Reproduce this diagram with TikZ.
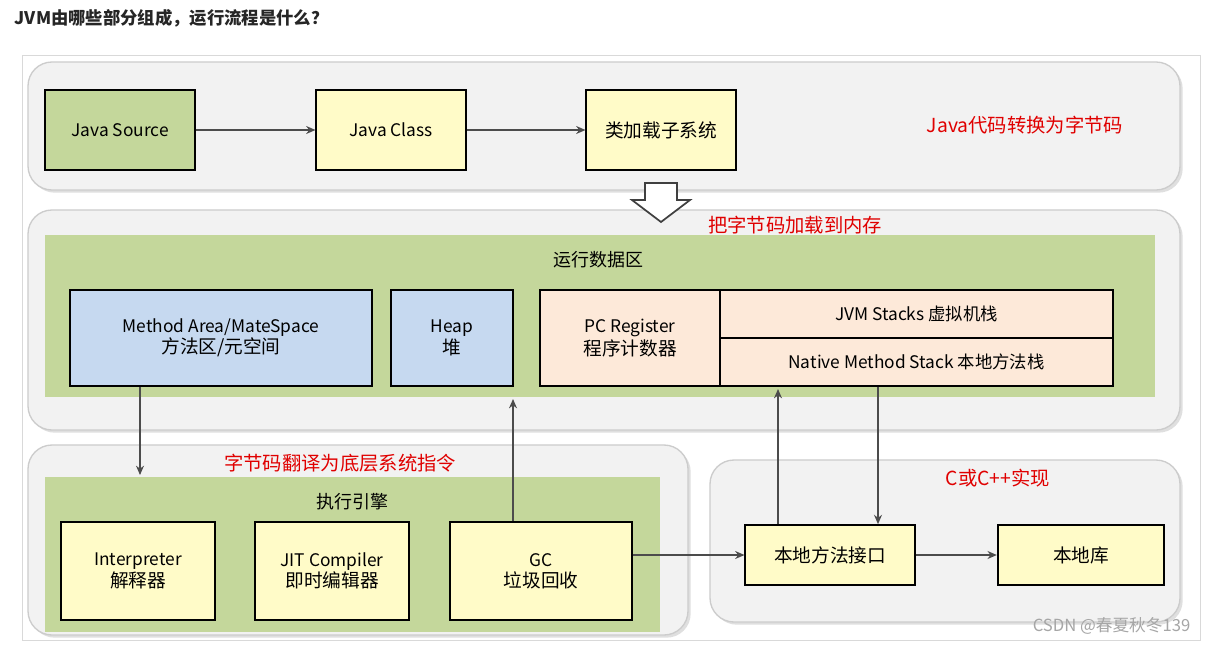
\documentclass[tikz,border=0pt]{standalone}
\usepackage{fontspec}
\setmainfont{Noto Sans CJK SC}
\usetikzlibrary{arrows.meta,shadows}
\definecolor{pan}{HTML}{F2F2F2}
\definecolor{grn}{HTML}{C4D79B}
\definecolor{yel}{HTML}{FFFBC8}
\definecolor{blu}{HTML}{C6D9F0}
\definecolor{pch}{HTML}{FDE9D9}
\definecolor{rd}{HTML}{E00000}
\tikzset{
 panel/.style={draw=gray!40,line width=1pt,fill=pan,rounded corners=18pt,drop shadow={shadow xshift=2pt,shadow yshift=-2pt,opacity=0.25}},
 box/.style={draw=black,line width=1.3pt,align=center,font=\fontsize{13}{15}\selectfont},
 lbl/.style={text=rd,font=\fontsize{14.5}{16}\selectfont},
 arr/.style={-{Stealth[length=7pt,width=6pt]},draw=black!70,line width=1pt},
}
\begin{document}
\begin{tikzpicture}[x=0.75pt,y=-0.75pt]
\useasboundingbox (0,0) rectangle (1209,646);
\fill[white] (0,0) rectangle (1209,646);
\node[anchor=west,font=\bfseries\fontsize{13}{15}\selectfont,text=black!85] (title) at (10,18) {JVM由哪些部分组成，运行流程是什么？};
\draw[gray!30] (22,55) rectangle (1200,640);
% panels
\path[panel] (28,62) rectangle (1180,190);
\path[panel] (28,210) rectangle (1180,430);
\path[panel] (28,445) rectangle (688,635);
\path[panel] (710,460) rectangle (1180,622);
% panel 1
\node[box,fill=grn,minimum width=112pt,minimum height=60pt] (src) at (120,130) {Java Source};
\node[box,fill=yel,minimum width=112pt,minimum height=60pt] (cls) at (391,130) {Java Class};
\node[box,fill=yel,minimum width=112pt,minimum height=60pt,font=\fontsize{14}{16}\selectfont] (cl) at (661,130) {类加载子系统};
\node[lbl] (l1) at (1025,125) {Java代码转换为字节码};
\draw[arr] (src) -- (cls);
\draw[arr] (cls) -- (cl);
% hollow arrow
\draw[line width=1.3pt,draw=black!75,fill=white] (645,183)--(677,183)--(677,200)--(690,200)--(661,222)--(632,200)--(645,200)--cycle;
% panel 2
\fill[grn] (45,235) rectangle (1155,397);
\node[font=\fontsize{13.5}{15}\selectfont] (rda) at (598,260) {运行数据区};
\node[lbl] (l2) at (795,225) {把字节码加载到内存};
\node[box,fill=blu,minimum width=226pt,minimum height=72pt] (ma) at (221,338) {Method Area/MateSpace\\[1pt]{\fontsize{14}{16}\selectfont 方法区/元空间}};
\node[box,fill=blu,minimum width=91pt,minimum height=72pt] (heap) at (452,338) {Heap\\[1pt]{\fontsize{14}{16}\selectfont 堆}};
\node[box,fill=pch,minimum width=135pt,minimum height=72pt] (pc) at (630,338) {PC Register\\[1pt]{\fontsize{14}{16}\selectfont 程序计数器}};
\node[box,fill=pch,minimum width=295pt,minimum height=36pt] (jvs) at (916.5,314) {JVM Stacks 虚拟机栈};
\node[box,fill=pch,minimum width=295pt,minimum height=36pt] (nms) at (916.5,362) {Native Method Stack 本地方法栈};
% panel 3
\fill[grn] (45,477) rectangle (660,632);
\node[font=\fontsize{13.5}{15}\selectfont] (ee) at (352,502) {执行引擎};
\node[lbl] (l3) at (340,463) {字节码翻译为底层系统指令};
\node[box,fill=yel,minimum width=115pt,minimum height=73pt] (int) at (138,571) {Interpreter\\[1pt]{\fontsize{14}{16}\selectfont 解释器}};
\node[box,fill=yel,minimum width=116pt,minimum height=73pt] (jit) at (332,571) {JIT Compiler\\[1pt]{\fontsize{14}{16}\selectfont 即时编辑器}};
\node[box,fill=yel,minimum width=136pt,minimum height=73pt] (gc) at (541,571) {GC\\[1pt]{\fontsize{14}{16}\selectfont 垃圾回收}};
% panel 4
\node[lbl] (l4) at (998,478) {C或C++实现};
\node[box,fill=yel,minimum width=127pt,minimum height=45pt,font=\fontsize{14}{16}\selectfont] (nmi) at (830,555) {本地方法接口};
\node[box,fill=yel,minimum width=125pt,minimum height=45pt,font=\fontsize{14}{16}\selectfont] (lib) at (1081,555) {本地库};
% connectors
\draw[arr] (ma.south -| 140,0) -- (140,475);
\draw[arr] (gc.north -| 513,0) -- (513,399);
\draw[arr] (nmi.north -| 778,0) -- (778,389);
\draw[arr] (nms.south -| 878,0) -- (nmi.north -| 878,0);
\draw[arr] (gc.east |- nmi.west) -- (nmi.west);
\draw[arr] (nmi) -- (lib);
\node[anchor=east,text=gray!70,font=\fontsize{12.5}{14}\selectfont] (wm) at (1195,626) {CSDN @春夏秋冬139};
\end{tikzpicture}
\end{document}
